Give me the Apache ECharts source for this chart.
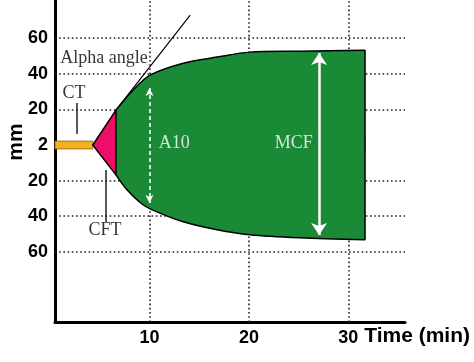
<!DOCTYPE html>
<html><head><meta charset="utf-8">
<script src="https://cdn.jsdelivr.net/npm/echarts@6/dist/echarts.min.js"></script>
<style>html,body{margin:0;padding:0;background:#fff}#c{width:474px;height:362px}</style>
</head><body><div id="c"></div>
<script>
// tick labels
const xTicks = [10, 20, 30];
const yTicks = [-60, -40, -20, 0, 20, 40, 60];
const gridX = [10, 20, 30];
const gridY = [60, 40, 20, -20, -40, -60];
// clot amplitude curve (upper / lower)
const upperT = [6.63, 8.34, 10.05, 13.4, 16.8, 20.1, 25.1, 31.7];
const upperA = [19.6, 30.8, 39.3, 46.0, 49.4, 52.2, 52.7, 53.3];
const lowerT = [6.63, 7.74, 9.35, 10.75, 13.4, 16.8, 20.1, 25.1, 31.7];
const lowerA = [-16.8, -25.2, -33.6, -37.6, -43.2, -47.7, -50.5, -52.2, -53.3];
// CT (orange band) and CFT (pink triangle)
const ctT = [0.5, 4.3];
const ctA = [2.2, -2.2];
const cftT = [4.3, 6.63, 6.63];
const cftA = [0, 19.6, -16.8];
// alpha angle tangent
const alphaT = [6.63, 14.1];
const alphaA = [19.6, 73];
// A10 and MCF
const a10T = 10, a10A = [32, -32.6];
const mcfT = 27.06, mcfA = [51.7, -50.6];

const GREEN = '#1b8a37', PINK = '#ec0f6a', ORANGE = '#f5b01e';
const sans = 'Liberation Sans, Arial, sans-serif';
const serif = 'Liberation Serif, Times New Roman, serif';

function polySeries(points, style, z) {
  return {
    type: 'custom', z: z, silent: true, data: [[points[0][0], points[0][1]]],
    renderItem: function (params, api) {
      return { type: 'polygon', shape: { points: points.map(p => api.coord(p)) }, style: style };
    }
  };
}
const ctPoly = [[ctT[0], ctA[0]], [ctT[1], ctA[0]], [ctT[1], ctA[1]], [ctT[0], ctA[1]]];
const cftPoly = cftT.map((t, i) => [t, cftA[i]]);

const chart = echarts.init(document.getElementById('c'), null, { renderer: 'canvas' });
chart.setOption({
  animation: false,
  grid: { left: 55, right: 69, top: 0, bottom: 40, containLabel: false },
  xAxis: {
    type: 'value', min: 0.5, max: 35.7,
    name: 'Time (min)', nameLocation: 'end', nameGap: -43,
    nameTextStyle: { fontFamily: sans, fontWeight: 'bold', fontSize: 21, color: '#000', align: 'left', verticalAlign: 'top', padding: [4, 0, 0, 0] },
    axisLine: { show: true, onZero: false, lineStyle: { color: '#000', width: 3 } },
    axisTick: { show: false },
    splitLine: { show: false },
    axisLabel: { customValues: xTicks, fontFamily: sans, fontWeight: 'bold', fontSize: 18, color: '#000', margin: 7 }
  },
  yAxis: {
    type: 'value', min: -99.5, max: 81.5,
    axisLine: { show: true, onZero: false, lineStyle: { color: '#000', width: 3 } },
    axisTick: { show: false },
    splitLine: { show: false },
    axisLabel: {
      customValues: yTicks, fontFamily: sans, fontWeight: 'bold', fontSize: 18, color: '#000', margin: 7,
      formatter: v => (v === 0 ? '2' : String(Math.abs(v)))
    }
  },
  graphic: [{
    type: 'text', x: 16, y: 142, rotation: Math.PI / 2,
    style: { text: 'mm', fontFamily: sans, fontWeight: 'bold', fontSize: 21, fill: '#000', align: 'center', verticalAlign: 'middle' }
  }],
  series: [
    { // grid lines
      type: 'line', z: 1, silent: true, showSymbol: false, data: [],
      markLine: {
        z: 1, silent: true, symbol: 'none', label: { show: false },
        lineStyle: { color: '#222', width: 1.6, type: [1.6, 2.6] },
        emphasis: { disabled: true },
        data: gridY.map(v => ({ yAxis: v })).concat(gridX.map(v => ({ xAxis: v })))
      }
    },
    {
      type: 'line', z: 3, silent: true, showSymbol: false, smooth: 0.3,
      data: upperT.map((t, i) => [t, upperA[i]]),
      lineStyle: { color: '#000', width: 1.5 },
      areaStyle: { color: GREEN, opacity: 1, origin: -4 }
    },
    {
      type: 'line', z: 3, silent: true, showSymbol: false, smooth: 0.3,
      data: lowerT.map((t, i) => [t, lowerA[i]]),
      lineStyle: { color: '#000', width: 1.5 },
      areaStyle: { color: GREEN, opacity: 1, origin: 4 },
      markLine: {
        z: 4, silent: true, symbol: 'none', label: { show: false },
        lineStyle: { color: '#000', width: 1.5, type: 'solid' },
        data: [[{ coord: [upperT[upperT.length - 1], upperA[upperA.length - 1]] },
                { coord: [lowerT[lowerT.length - 1], lowerA[lowerA.length - 1]] }]]
      }
    },
    polySeries(ctPoly, { fill: ORANGE, stroke: '#8a6010', lineWidth: 0.8 }, 5),
    polySeries(cftPoly, { fill: PINK, stroke: '#000', lineWidth: 1.5, lineJoin: 'round' }, 5),
    {
      type: 'line', z: 6, silent: true, showSymbol: false,
      data: alphaT.map((t, i) => [t, alphaA[i]]),
      lineStyle: { color: '#000', width: 1.2 }
    },
    { // annotations
      type: 'scatter', z: 10, silent: true, symbolSize: 0,
      label: { show: true, position: 'inside', fontFamily: serif, fontSize: 18, color: '#000' },
      data: [
        { value: [5.43, 48.9], label: { formatter: 'Alpha angle' } },
        { value: [2.41, 29.2], label: { formatter: 'CT' } },
        { value: [5.53, -47.8], label: { formatter: 'CFT' } },
        { value: [12.5, 1.1], label: { formatter: 'A10', color: '#fff' } },
        { value: [24.5, 1.1], label: { formatter: 'MCF', color: '#fff' } }
      ],
      markLine: {
        z: 10, silent: true, label: { show: false }, symbol: 'none',
        emphasis: { disabled: true },
        data: [
          [{ coord: [2.71, 23.6], lineStyle: { color: '#222', width: 1.5, type: 'solid' } }, { coord: [2.71, 6.2] }],
          [{ coord: [5.63, -14], lineStyle: { color: '#222', width: 1.5, type: 'solid' } }, { coord: [5.63, -43.3] }],
          [{ coord: [a10T, a10A[0]], symbol: 'arrow', symbolSize: [6, 8], lineStyle: { color: '#fff', width: 1.6, type: [4, 3] } },
           { coord: [a10T, a10A[1]], symbol: 'arrow', symbolSize: [6, 8] }],
          [{ coord: [mcfT, mcfA[0]], symbol: 'arrow', symbolSize: [12, 12], lineStyle: { color: '#fff', width: 2.5, type: 'solid' } },
           { coord: [mcfT, mcfA[1]], symbol: 'arrow', symbolSize: [12, 12] }]
        ]
      }
    }
  ]
});
</script></body></html>
